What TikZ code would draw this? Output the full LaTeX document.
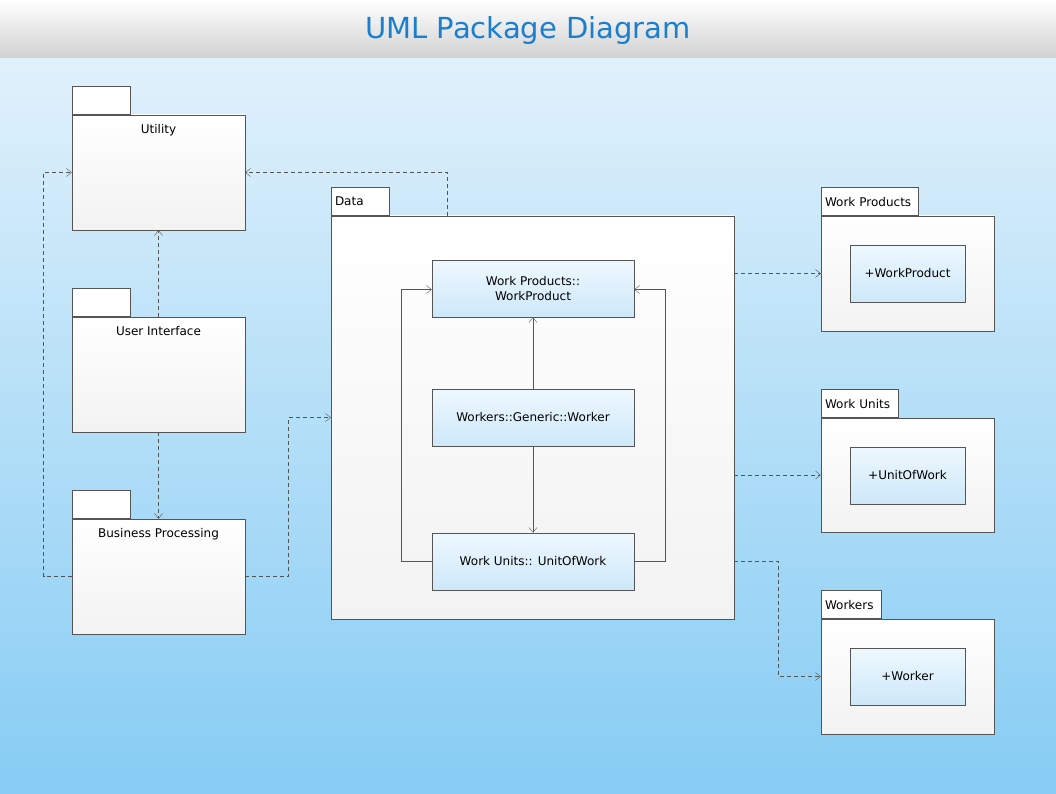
\documentclass[tikz,border=0pt]{standalone}
\usepackage{fontspec}
\setmainfont{DejaVu Sans}
\usetikzlibrary{arrows.meta,positioning}
\definecolor{bgtop}{HTML}{E0F1FB}
\definecolor{bgbot}{HTML}{86CCF4}
\definecolor{edge}{HTML}{555555}
\definecolor{titleblue}{HTML}{1A7FCF}
\definecolor{clstop}{HTML}{EEF8FE}
\definecolor{clsbot}{HTML}{CDE8F9}
\tikzset{
  pkg/.style={draw=edge,top color=white,bottom color=black!5,inner sep=0pt},
  tab/.style={draw=edge,fill=white,inner sep=4pt,minimum height=28pt,anchor=south west,
    font=\fontsize{12}{14}\selectfont,text depth=0pt},
  lbl/.style={font=\fontsize{12}{14}\selectfont},
  cls/.style={draw=edge,top color=clstop,bottom color=clsbot,inner sep=2pt,align=center,
    font=\fontsize{12}{15}\selectfont},
  dep/.style={draw=edge,dashed,dash pattern=on 4pt off 3pt,-{Straight Barb[length=5pt,width=8pt]}},
  assoc/.style={draw=edge,-{Straight Barb[length=5pt,width=8pt]}}
}
\begin{document}
\begin{tikzpicture}[x=1pt,y=-1pt]
  \useasboundingbox (0,0) rectangle (1056,794);
  \shade[top color=bgtop,bottom color=bgbot] (0,58) rectangle (1056,794);
  \shade[top color=white,bottom color=black!18] (0,0) rectangle (1056,58);
  \node[text=titleblue,font=\fontsize{29}{34}\selectfont] (title) at (528,31) {UML Package Diagram};

  % left packages
  \node[pkg,minimum width=173pt,minimum height=115pt] (util) at (158.5,172.5) {};
  \node[tab,minimum width=58pt] at (util.north west) {};
  \node[lbl,below=6pt of util.north] {Utility};
  \node[pkg,minimum width=173pt,minimum height=115pt] (ui) at (158.5,374.5) {};
  \node[tab,minimum width=58pt] at (ui.north west) {};
  \node[lbl,below=6pt of ui.north] {User Interface};
  \node[pkg,minimum width=173pt,minimum height=115pt] (bp) at (158.5,576.5) {};
  \node[tab,minimum width=58pt] at (bp.north west) {};
  \node[lbl,below=6pt of bp.north] {Business Processing};

  % data package
  \node[pkg,minimum width=403pt,minimum height=403pt] (data) at (532.5,417.5) {};
  \node[tab,minimum width=58pt,align=left,text width=50pt] at (data.north west) {Data};
  \node[cls,minimum width=202pt,minimum height=57pt] (wp) at (533,288.5) {Work Products::\\WorkProduct};
  \node[cls,minimum width=202pt,minimum height=57pt] (gw) at (533,417.5) {Workers::Generic::Worker};
  \node[cls,minimum width=202pt,minimum height=57pt] (uw) at (533,561.5) {Work Units:: UnitOfWork};

  % right packages
  \node[pkg,minimum width=173pt,minimum height=115pt] (wpk) at (907.5,273.5) {};
  \node[tab,minimum width=97pt,align=left,text width=89pt] at (wpk.north west) {Work Products};
  \node[cls,minimum width=115pt,minimum height=57pt] (wpc) at (907.5,273.5) {+WorkProduct};
  \node[pkg,minimum width=173pt,minimum height=114pt] (wu) at (907.5,475) {};
  \node[tab,minimum width=77pt,align=left,text width=69pt] at (wu.north west) {Work Units};
  \node[cls,minimum width=115pt,minimum height=57pt] (wuc) at (907.5,475.5) {+UnitOfWork};
  \node[pkg,minimum width=173pt,minimum height=115pt] (wk) at (907.5,676.5) {};
  \node[tab,minimum width=60pt,align=left,text width=52pt] at (wk.north west) {Workers};
  \node[cls,minimum width=115pt,minimum height=57pt] (wkc) at (907.5,676.5) {+Worker};

  % dependencies
  \draw[dep] (data.north -| 447.5,0) |- (util.east);
  \draw[dep] (ui.north) -- (util.south);
  \draw[dep] (ui.south) -- (bp.north);
  \draw[dep] (bp.west) -| (43.5,172.5) -- (util.west);
  \draw[dep] (bp.east) -| (288.5,417.5) -- (data.west);
  \draw[dep] (data.east |- wpk) -- (wpk.west);
  \draw[dep] (data.east |- wu) -- (wu.west);
  \draw[dep] (data.east |- uw) -| (778.5,676.5) -- (wk.west);

  % associations
  \draw[assoc] (gw.north) -- (wp.south);
  \draw[assoc] (gw.south) -- (uw.north);
  \draw[assoc] (uw.west) -| (401.5,289.5) -- (wp.west |- 0,289.5);
  \draw[assoc] (uw.east) -| (665.5,289.5) -- (wp.east |- 0,289.5);
\end{tikzpicture}
\end{document}
